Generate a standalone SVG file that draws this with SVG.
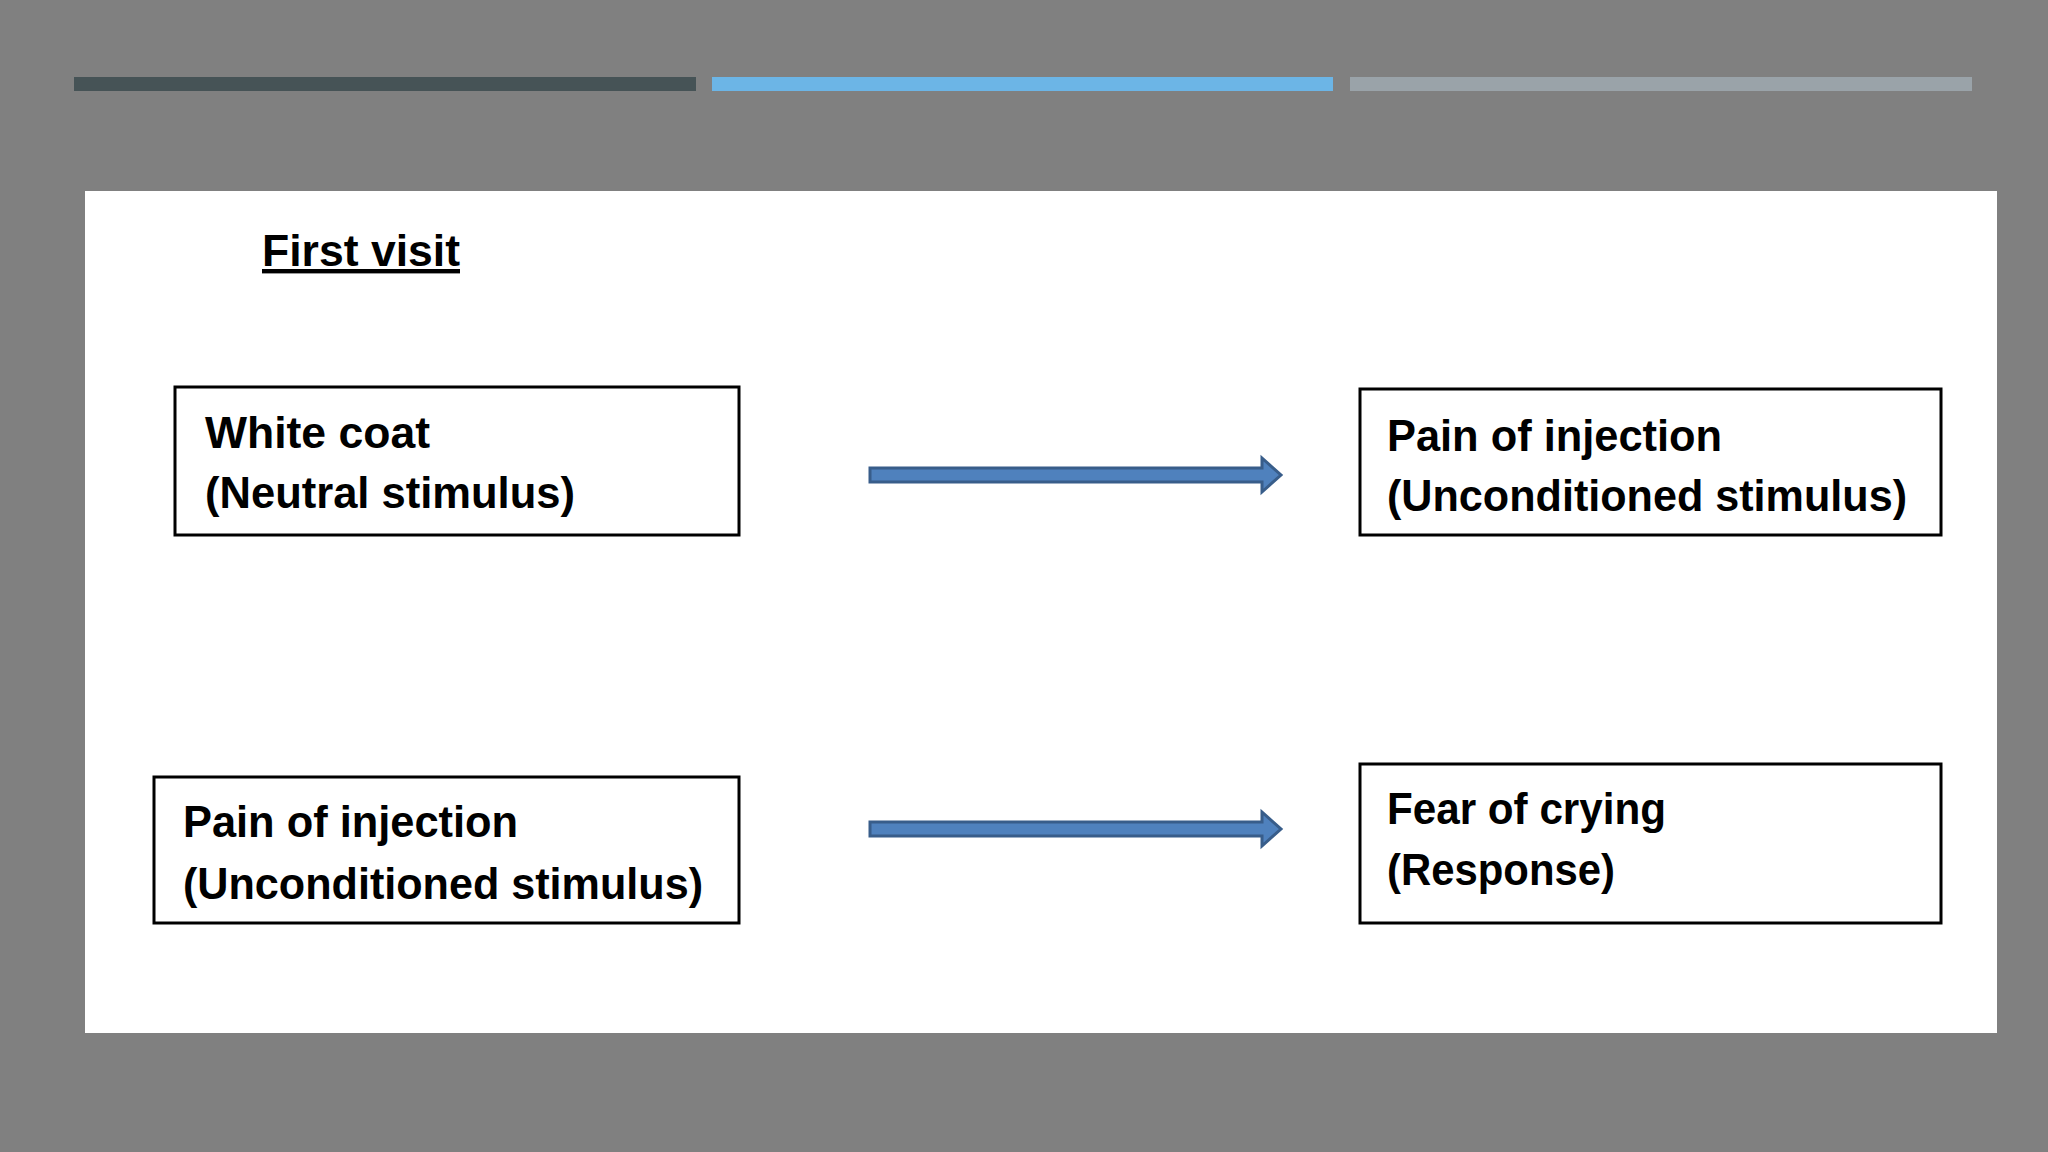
<svg xmlns="http://www.w3.org/2000/svg" width="2048" height="1152" viewBox="0 0 2048 1152">
<style>
.box{fill:#fff;stroke:#000;stroke-width:3}
.t{font-family:"Liberation Sans",Arial,sans-serif;font-weight:bold;font-size:44px;fill:#000}
</style>
<defs>
<marker id="ah" markerWidth="4" markerHeight="4" refX="1" refY="2" orient="auto" markerUnits="strokeWidth">
<path d="M0,0 L2,2 L0,4" fill="none" stroke="#3a5f8f" stroke-width="0.6"/>
</marker>
</defs>
<rect width="2048" height="1152" fill="#808080"/>
<rect x="74" y="77" width="622" height="14" fill="#465356"/>
<rect x="712" y="77" width="621" height="14" fill="#6cb5e6"/>
<rect x="1350" y="77" width="622" height="14" fill="#9aa3a9"/>
<rect x="85" y="191" width="1912" height="842" fill="#fff"/>
<text x="262" y="266" class="t" text-decoration="underline" textLength="198" lengthAdjust="spacingAndGlyphs">First visit</text>
<g id="n1"><rect class="box" x="175" y="387" width="564" height="148"/>
<text class="t" x="205" y="448" textLength="225" lengthAdjust="spacingAndGlyphs">White coat</text>
<text class="t" x="205" y="508" textLength="370" lengthAdjust="spacingAndGlyphs">(Neutral stimulus)</text></g>
<g id="n2"><rect class="box" x="1360" y="389" width="581" height="146"/>
<text class="t" x="1387" y="451" textLength="335" lengthAdjust="spacingAndGlyphs">Pain of injection</text>
<text class="t" x="1387" y="511" textLength="520" lengthAdjust="spacingAndGlyphs">(Unconditioned stimulus)</text></g>
<g id="n3"><rect class="box" x="154" y="777" width="585" height="146"/>
<text class="t" x="183" y="837" textLength="335" lengthAdjust="spacingAndGlyphs">Pain of injection</text>
<text class="t" x="183" y="899" textLength="520" lengthAdjust="spacingAndGlyphs">(Unconditioned stimulus)</text></g>
<g id="n4"><rect class="box" x="1360" y="764" width="581" height="159"/>
<text class="t" x="1387" y="824" textLength="279" lengthAdjust="spacingAndGlyphs">Fear of crying</text>
<text class="t" x="1387" y="885" textLength="228" lengthAdjust="spacingAndGlyphs">(Response)</text></g>
<g id="connectors">
<path d="M870,475 H1265 L1260,460 L1281,475 L1260,490 L1265,475" fill="none" stroke="none"/>
<path d="M870,468 H1262 V458 L1281,475 L1262,492 V482 H870 Z" fill="#4f81bd" stroke="#385d8a" stroke-width="3"/>
<path d="M870,822 H1262 V812 L1281,829 L1262,846 V836 H870 Z" fill="#4f81bd" stroke="#385d8a" stroke-width="3"/>
</g>
</svg>
